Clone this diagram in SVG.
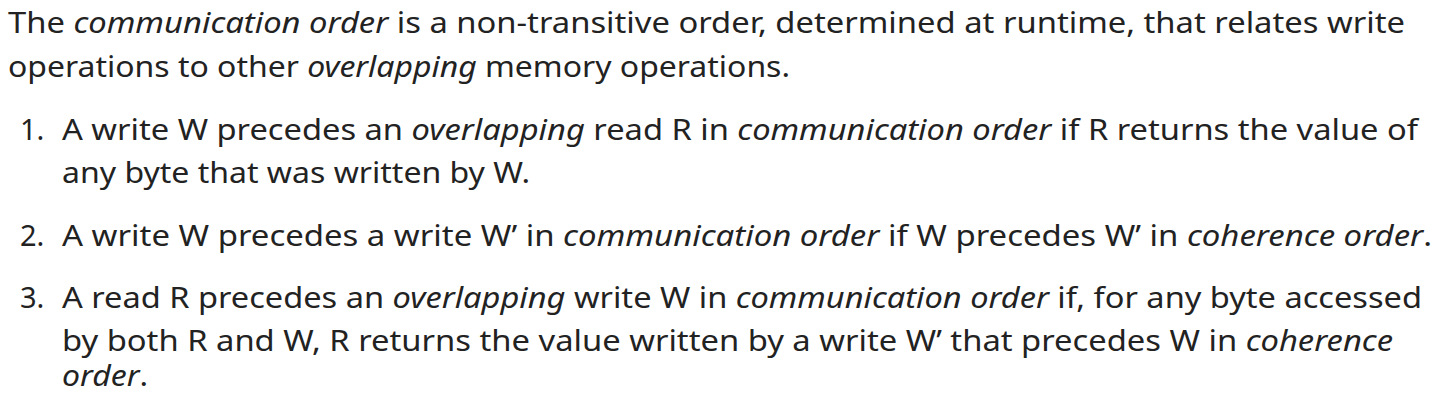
<svg xmlns="http://www.w3.org/2000/svg" width="1440" height="402" viewBox="0 0 1440 402">
<style>
text{font-family:"Noto Sans","Open Sans",sans-serif;font-size:29px;fill:#222;}
.i{font-style:italic;}
</style>
<rect width="1440" height="402" fill="#fff"/>
<g id="intro">
<text x="8" y="33" textLength="1397" lengthAdjust="spacingAndGlyphs">The <tspan class="i">communication order</tspan> is a non-transitive order, determined at runtime, that relates write</text>
<text x="8" y="77" textLength="782" lengthAdjust="spacingAndGlyphs">operations to other <tspan class="i">overlapping</tspan> memory operations.</text>
</g>
<g id="item1">
<text x="20" y="140">1.</text>
<text x="62" y="140" textLength="1356" lengthAdjust="spacingAndGlyphs">A write W precedes an <tspan class="i">overlapping</tspan> read R in <tspan class="i">communication order</tspan> if R returns the value of</text>
<text x="62" y="183" textLength="468" lengthAdjust="spacingAndGlyphs">any byte that was written by W.</text>
</g>
<g id="item2">
<text x="20" y="246">2.</text>
<text x="62" y="246" textLength="1370" lengthAdjust="spacingAndGlyphs">A write W precedes a write W’ in <tspan class="i">communication order</tspan> if W precedes W’ in <tspan class="i">coherence order</tspan>.</text>
</g>
<g id="item3">
<text x="20" y="308">3.</text>
<text x="62" y="308" textLength="1360" lengthAdjust="spacingAndGlyphs">A read R precedes an <tspan class="i">overlapping</tspan> write W in <tspan class="i">communication order</tspan> if, for any byte accessed</text>
<text x="62" y="351" textLength="1331" lengthAdjust="spacingAndGlyphs">by both R and W, R returns the value written by a write W’ that precedes W in <tspan class="i">coherence</tspan></text>
<text x="62" y="386" textLength="86" lengthAdjust="spacingAndGlyphs"><tspan class="i">order</tspan>.</text>
</g>
</svg>
